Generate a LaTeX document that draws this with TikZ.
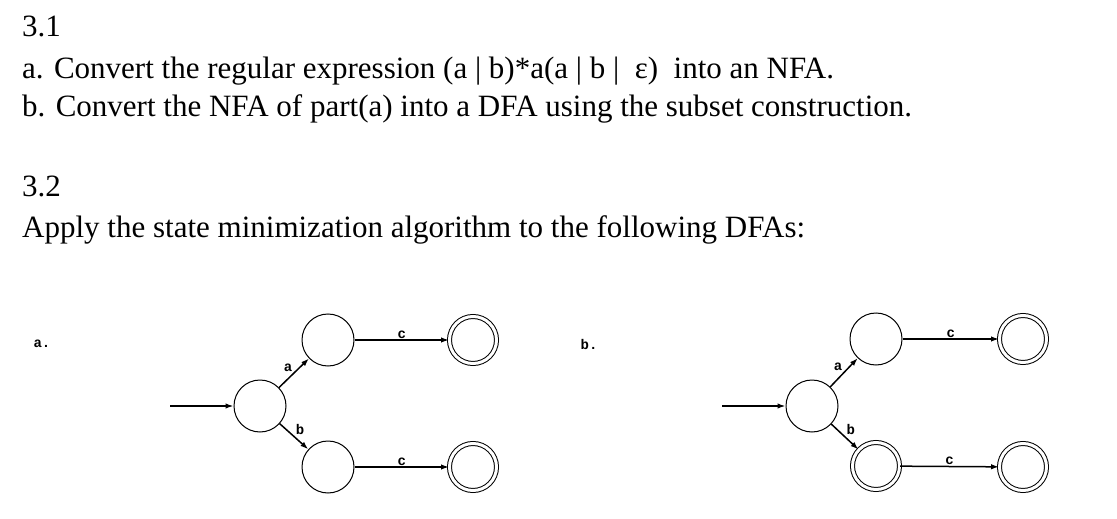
\documentclass[tikz,border=0pt]{standalone}
\usepackage{fontspec}
\setmainfont{Liberation Serif}
\setmonofont{Liberation Mono}
\usetikzlibrary{arrows.meta}
\begin{document}
\begin{tikzpicture}[x=1pt,y=-1pt,
  txt/.style={anchor=base west,font=\fontsize{31}{34}\selectfont,inner sep=0},
  st/.style={circle,draw,line width=1pt,minimum size=52pt,inner sep=0},
  acc/.style={st,double,double distance=3pt,minimum size=47pt},
  tr/.style={-{Latex[length=8pt,width=5.5pt]},line width=1.5pt},
  lb/.style={font=\ttfamily\bfseries\fontsize{14}{14}\selectfont,inner sep=1pt}]
\useasboundingbox (0,0) rectangle (1117,519);
\node[txt] (t1) at (22,37) {3.1};
\node[txt] (t2) at (22,78) {a. Convert the regular expression (a | b)*a(a | b |\ \ ε)\ \ into an NFA.};
\node[txt] (t3) at (22,117) {b. Convert the NFA of part(a) into a DFA using the subset construction.};
\node[txt] (t4) at (22,196) {3.2};
\node[txt] (t5) at (22,237) {Apply the state minimization algorithm to the following DFAs:};
% a
\node[lb] (la) at (42,344) {a.};
\coordinate (sa) at (170,406);
\node[st] (a0) at (260,406) {};
\node[st] (a1) at (328,340) {};
\node[st] (a2) at (328,467) {};
\node[acc] (a3) at (473,340) {};
\node[acc] (a4) at (473,467) {};
\draw[tr] (sa) -- (a0);
\draw[tr] (a0) -- node[lb,above left] {a} (a1);
\draw[tr] (a0) -- node[lb,above right] {b} (a2);
\draw[tr] (a1) -- node[lb,above] {c} (a3);
\draw[tr] (a2) -- node[lb,above] {c} (a4);
% b
\node[lb] (lb2) at (589,344) {b.};
\coordinate (sb) at (722,406);
\node[st] (b0) at (812,406) {};
\node[st] (b1) at (876,339) {};
\node[acc] (b2) at (876,466) {};
\node[acc] (b3) at (1023,339) {};
\node[acc] (b4) at (1023,467) {};
\draw[tr] (sb) -- (b0);
\draw[tr] (b0) -- node[lb,above left] {a} (b1);
\draw[tr] (b0) -- node[lb,above right] {b} (b2);
\draw[tr] (b1) -- node[lb,above] {c} (b3);
\draw[tr] (b2) -- node[lb,above] {c} (b4);
\end{tikzpicture}
\end{document}
